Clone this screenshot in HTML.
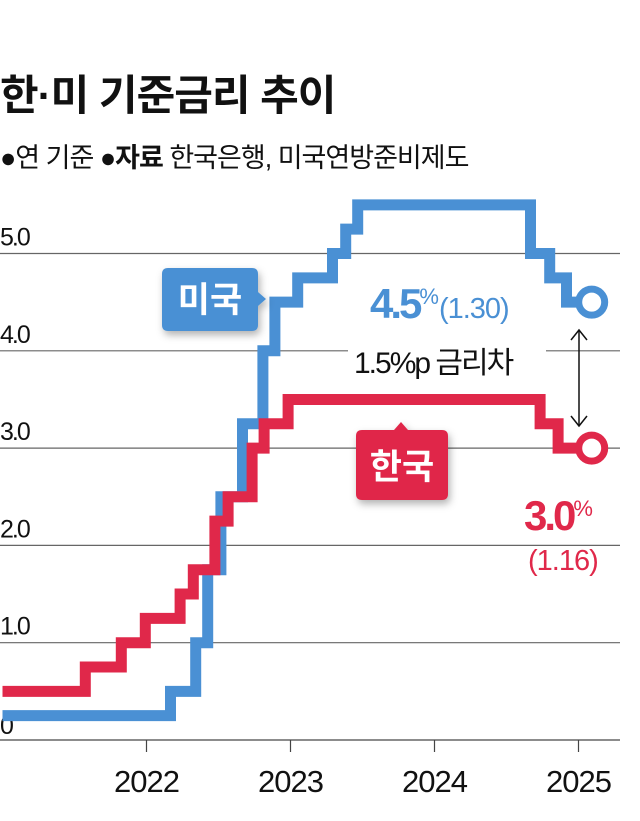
<!DOCTYPE html>
<html><head><meta charset="utf-8"><style>
body{margin:0;background:#fff;}
svg text{font-family:"Liberation Sans","Noto Sans CJK KR",sans-serif;}
</style></head><body>
<svg width="640" height="816" viewBox="0 0 640 816">
<text x="0" y="110" font-size="42" font-weight="bold" fill="#111" letter-spacing="-1">한·미 기준금리 추이</text>
<text x="0" y="167" font-size="27" fill="#111" letter-spacing="-1">●연 기준 <tspan font-weight="bold">●자료</tspan> 한국은행, 미국연방준비제도</text>
<g id="grid"></g>
<g id="lines"></g>
<g id="ann"></g>
</svg>
<script>
const yTicks=[0,1,2,3,4,5];
const yTickLabels=["0","1.0","2.0","3.0","4.0","5.0"];
const xYears=[2022,2023,2024,2025];
// months since Jan 2021 (fractional)
const usMonths=[0,14.0,16.1,17.1,18.2,20.0,21.7,22.7,24.6,27.5,28.6,29.6,44.0,45.6,47.0,49.1];
const usRates=[0.25,0.5,1.0,1.75,2.5,3.25,4.0,4.5,4.75,5.0,5.25,5.5,5.0,4.75,4.5,4.5];
const krMonths=[0,6.9,9.9,11.9,14.8,15.9,17.7,18.8,20.8,21.8,23.8,44.8,46.3,49.1];
const krRates=[0.5,0.75,1.0,1.25,1.5,1.75,2.25,2.5,3.0,3.25,3.5,3.25,3.0,3.0];
const NS="http://www.w3.org/2000/svg";
const X=m=>2.5+12*m;
const Y=v=>740-97.3*v;
const g=document.getElementById('grid'),L=document.getElementById('lines');
function mk(tag,attrs,parent){const e=document.createElementNS(NS,tag);for(const k in attrs)e.setAttribute(k,attrs[k]);parent.appendChild(e);return e;}
yTicks.forEach((v,i)=>{
 const l=mk('line',{x1:0,x2:620,y1:Y(v),y2:Y(v),stroke:'#666','stroke-width':v===0?1.5:1.2},g);
 
 
 const t=mk('text',{x:0,y:Y(v)-(v===0?6:8),'font-size':25,fill:'#111','letter-spacing':'-2'},g);
 t.textContent=yTickLabels[i];
 
 
});
xYears.forEach(yr=>{
 const x=X((yr-2021)*12);
 const l=mk('line',{x1:x,x2:x,y1:740,y2:752,stroke:'#444','stroke-width':1.2},g);
 
 
 const t=mk('text',{x:x,y:792,'font-size':31,'text-anchor':'middle',fill:'#111','letter-spacing':'-1'},g);
 t.textContent=yr;
 
 
});
function stepPath(ms,rs){let d='M'+X(ms[0])+' '+Y(rs[0]);for(let i=1;i<ms.length;i++){d+=' H'+X(ms[i])+' V'+Y(rs[i]);}return d;}
const us=mk('path',{d:stepPath(usMonths,usRates),fill:'none',stroke:'#4a90d4','stroke-width':11,'stroke-linejoin':'miter'},L);


const kr=mk('path',{d:stepPath(krMonths,krRates),fill:'none',stroke:'#e0284a','stroke-width':11,'stroke-linejoin':'miter'},L);


const ue=usMonths.length-1,ke=krMonths.length-1;
const uc=mk('circle',{cx:X(usMonths[ue]),cy:Y(usRates[ue]),r:13,fill:'#fff',stroke:'#4a90d4','stroke-width':7},L);


const kc=mk('circle',{cx:X(krMonths[ke]),cy:Y(krRates[ke]),r:13,fill:'#fff',stroke:'#e0284a','stroke-width':7},L);


</script>
<svg style="position:absolute;left:0;top:0" width="640" height="816">
<defs><filter id="sh" x="-20%" y="-20%" width="150%" height="160%"><feDropShadow dx="2" dy="4" stdDeviation="4" flood-opacity="0.3"/></filter></defs>
<g filter="url(#sh)">
<path d="M168 268 H252 Q258 268 258 274 V292 L266 299 L258 306 V325 Q258 331 252 331 H168 Q162 331 162 325 V274 Q162 268 168 268Z" fill="#4a90d4"/>
</g>
<text x="210" y="312" font-size="35" font-weight="bold" fill="#fff" text-anchor="middle" font-family="Liberation Sans,Noto Sans CJK KR,sans-serif">미국</text>
<g filter="url(#sh)">
<path d="M362 430 H394 L401 422 L408 430 H442 Q448 430 448 436 V494 Q448 500 442 500 H362 Q356 500 356 494 V436 Q356 430 362 430Z" fill="#e0284a"/>
</g>
<text x="402" y="479" font-size="35" font-weight="bold" fill="#fff" text-anchor="middle" font-family="Liberation Sans,Noto Sans CJK KR,sans-serif">한국</text>
<text x="370" y="318" font-family="Liberation Sans,sans-serif" fill="#4a90d4"><tspan font-size="42" font-weight="bold" letter-spacing="-3">4.5</tspan><tspan font-size="22" dy="-14">%</tspan><tspan font-size="29" dy="14" letter-spacing="-1">(1.30)</tspan></text>
<text x="524" y="530" font-family="Liberation Sans,sans-serif" fill="#e0284a"><tspan font-size="42" font-weight="bold" letter-spacing="-3">3.0</tspan><tspan font-size="22" dy="-14">%</tspan></text>
<text x="528" y="570" font-size="29" fill="#e0284a" font-family="Liberation Sans,sans-serif" letter-spacing="-1">(1.16)</text>
<rect x="348" y="338" width="198" height="40" fill="#fff"/>
<text x="354" y="373" font-size="30" fill="#111" font-family="Liberation Sans,Noto Sans CJK KR,sans-serif" letter-spacing="-2">1.5%p 금리차</text>
<g stroke="#111" stroke-width="1.5" fill="none">
<line x1="579" y1="330" x2="579" y2="426"/>
<path d="M571 340 L579 330 L587 340"/>
<path d="M571 416 L579 426 L587 416"/>
</g>
</svg>
</body></html>
